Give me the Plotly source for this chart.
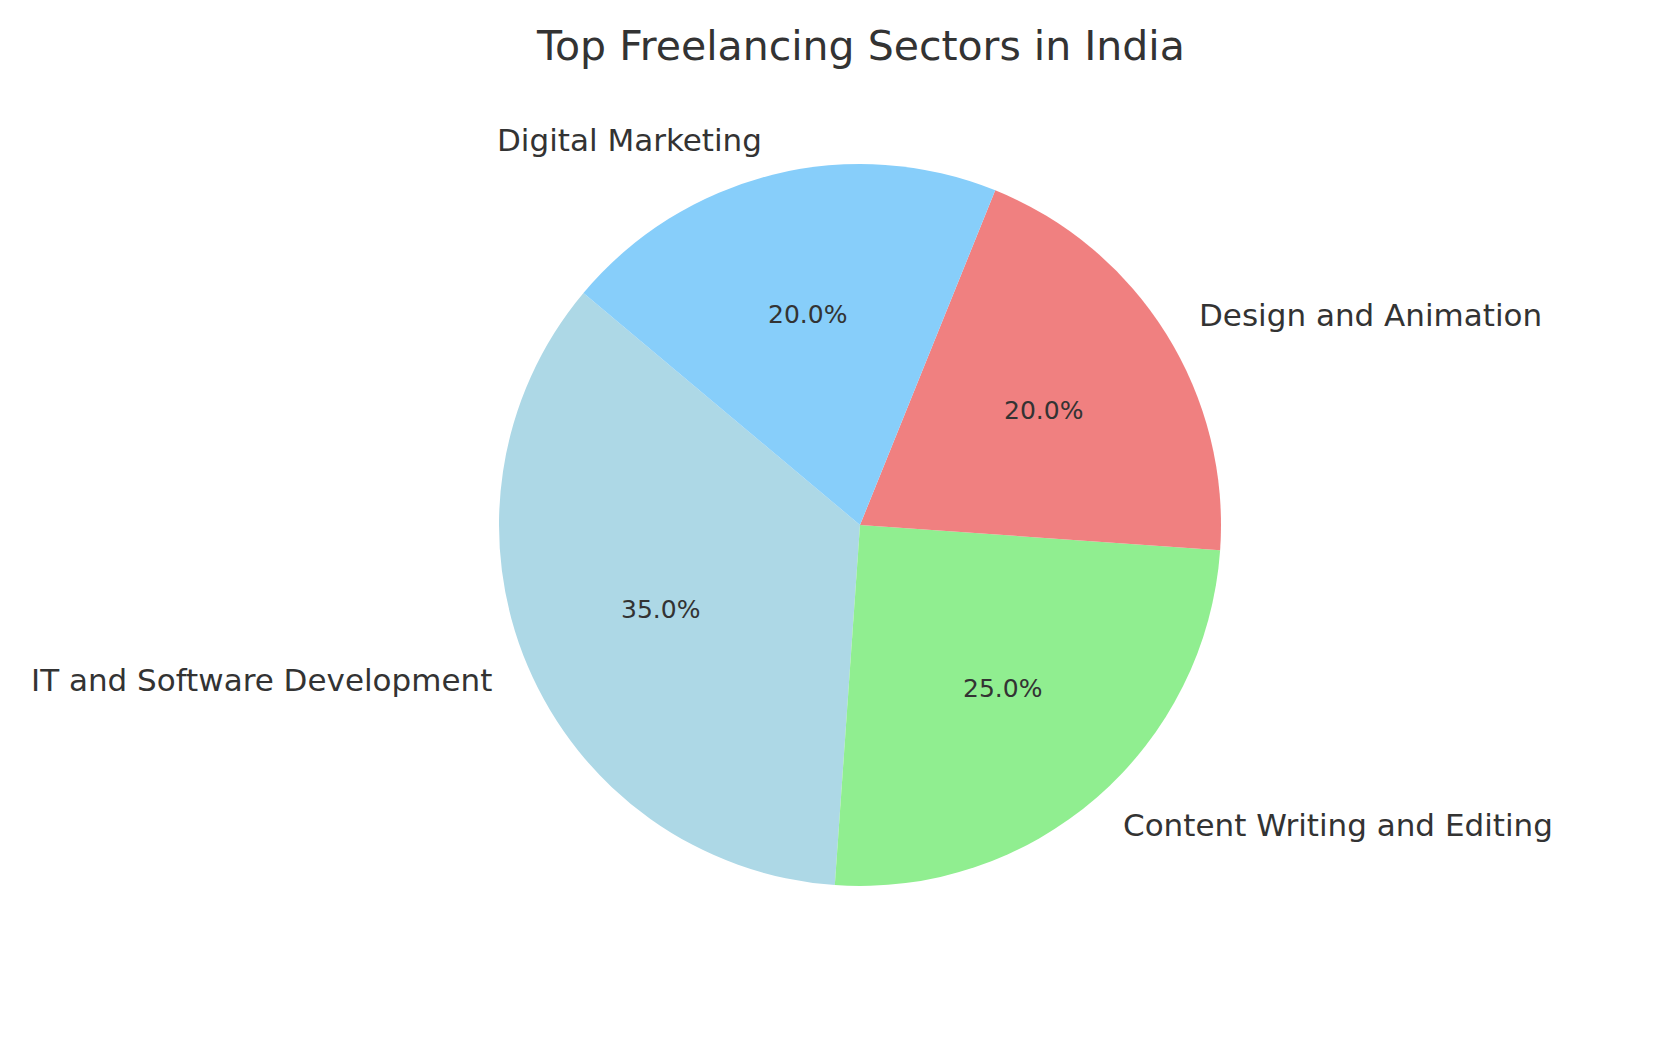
import math
import plotly.graph_objects as go

labels = ["IT and Software Development", "Content Writing and Editing", "Design and Animation", "Digital Marketing"]
values = [35, 25, 20, 20]
colors = ["#ADD8E6", "#90EE90", "#F08080", "#87CEFA"]

W, H = 1661, 1046
cx, cy, r = 852, 517, 361  # pixels, from top
start = 140

fig = go.Figure(go.Pie(labels=labels, values=values, sort=False, direction="counterclockwise",
                       rotation=-176, marker=dict(colors=colors), textinfo="none",
                       hoverinfo="label+percent", showlegend=False,
                       domain=dict(x=[(cx - r) / W, (cx + r) / W], y=[1 - (cy + r) / H, 1 - (cy - r) / H])))

total = sum(values)
ang = start
for lab, v in zip(labels, values):
    span = 360 * v / total
    mid = math.radians(ang + span / 2)
    ang += span
    dx, dy = math.cos(mid), math.sin(mid)
    fig.add_annotation(x=(cx + 1.1 * r * dx) / W, y=1 - (cy - 1.1 * r * dy) / H, xref="paper", yref="paper",
                       text=lab, showarrow=False, xanchor="left" if dx > 0 else "right", yanchor="middle",
                       font=dict(size=31, color="#333333"))
    fig.add_annotation(x=(cx + 0.6 * r * dx) / W, y=1 - (cy - 0.6 * r * dy) / H, xref="paper", yref="paper",
                       text=f"{100 * v / total:.1f}%", showarrow=False, xanchor="center", yanchor="middle",
                       font=dict(size=25, color="#333333"))

fig.update_layout(width=W, height=H, margin=dict(l=0, r=0, t=0, b=0), paper_bgcolor="white",
                  font=dict(family="DejaVu Sans"),
                  title=dict(text="Top Freelancing Sectors in India", x=0.5135, xanchor="center", y=1 - 38 / H,
                             yanchor="middle", font=dict(size=41, color="#333333")))
fig.write_html("out.html")
